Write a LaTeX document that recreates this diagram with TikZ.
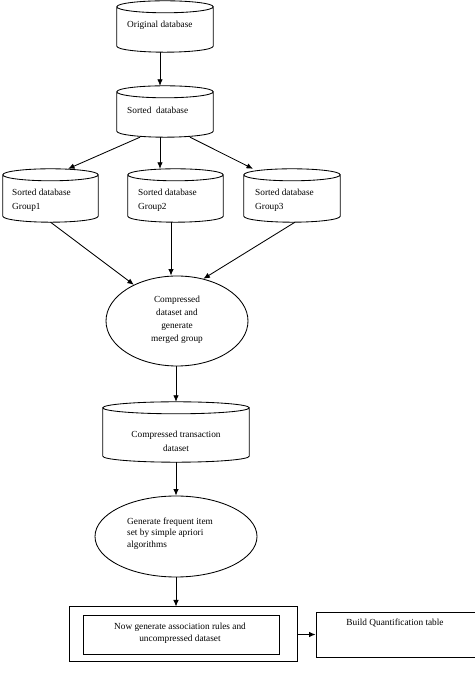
\documentclass[tikz,border=0pt]{standalone}
\usepackage{fontspec}
\setmainfont{Liberation Serif}
\usetikzlibrary{arrows.meta,calc,shapes.geometric}
\newcommand\fs{\fontsize{9.3}{11.5}\selectfont}
\newcommand\mycyl[2]{%
  \draw[line] let \p1=(#1.north west), \p2=(#1.south east), \n1={(\x2-\x1)/2} in
    (\x1,\y1-#2) -- (\x1,\y2+#2)
    arc[start angle=180,end angle=360,x radius=\n1,y radius=#2] -- (\x2,\y1-#2)
    (\x1+\n1,\y1-#2) ellipse[x radius=\n1,y radius=#2];
}
\begin{document}
\begin{tikzpicture}[x=1pt,y=1pt,
  line/.style={draw=black,line width=0.85pt},
  arr/.style={line,-{Latex[length=6.5pt,width=5.5pt]}},
  dbnode/.style={rectangle,inner sep=0pt,minimum width=#1},
  ell/.style={ellipse,line,inner sep=0pt},
  boxnode/.style={rectangle,line,line width=1pt,inner sep=0pt},
  txt/.style={inner sep=0pt,font=\fs},
]
\useasboundingbox (0,0) rectangle (474,676);
\fill[white] (0,0) rectangle (474,676);

% cylinders (databases)
\node[dbnode=96pt,minimum height=51pt] (orig) at (165,649.5) {};
\node[dbnode=96pt,minimum height=51pt] (sorted) at (165,564.5) {};
\node[dbnode=95pt,minimum height=53pt] (g1) at (50.5,480.5) {};
\node[dbnode=95pt,minimum height=53pt] (g2) at (175.5,480.5) {};
\node[dbnode=96pt,minimum height=53pt] (g3) at (292,480.5) {};
\node[dbnode=146pt,minimum height=60pt] (comp) at (176,244) {};
\mycyl{orig}{6pt}
\mycyl{sorted}{6pt}
\mycyl{g1}{6pt}
\mycyl{g2}{6pt}
\mycyl{g3}{6pt}
\mycyl{comp}{6pt}

\node[txt,anchor=west] (torig) at (127,651) {Original database};
\node[txt,anchor=west] (tsorted) at (127,566) {Sorted\ \ database};
\node[txt,anchor=west,align=left,font=\fontsize{9.3}{14}\selectfont] (tg1) at (12,476) {Sorted database\\Group1};
\node[txt,anchor=west,align=left,font=\fontsize{9.3}{14}\selectfont] (tg2) at (138,476) {Sorted database\\Group2};
\node[txt,anchor=west,align=left,font=\fontsize{9.3}{14}\selectfont] (tg3) at (255,476) {Sorted database\\Group3};
\node[txt,align=center,font=\fontsize{9.3}{14}\selectfont] (tcomp) at (176,235) {Compressed transaction\\dataset};

% ellipses
\node[ell,minimum width=142pt,minimum height=90pt] (e1) at (177,355) {};
\node[txt,align=center,font=\fontsize{9.3}{13}\selectfont] (te1) at (177,356.5) {Compressed\\dataset and\\generate\\merged group};
\node[ell,minimum width=162pt,minimum height=81pt] (e2) at (176,139.5) {};
\node[txt,anchor=west,align=left,font=\fontsize{9.3}{11.5}\selectfont] (te2) at (127,142.5) {Generate frequent item\\set by simple apriori\\algorithms};

% boxes
\node[boxnode,minimum width=228pt,minimum height=55pt] (outer) at (183,41.5) {};
\node[boxnode,minimum width=196pt,minimum height=39pt] (inner) at (181,40.5) {};
\node[txt,align=center,font=\fontsize{9.3}{12}\selectfont] (tinner) at (180,43) {Now generate association rules and\\uncompressed dataset};
\node[boxnode,line width=0.9pt,minimum width=166pt,minimum height=45pt] (build) at (399,41.5) {};
\node[txt] (tbuild) at (395,53) {Build Quantification table};

% connectors
\draw[arr] ([xshift=-5pt]orig.south) -- ([xshift=-5pt]sorted.north);
\draw[arr] ([xshift=-25pt]sorted.south) -- ([xshift=17.5pt]g1.north);
\draw[arr] ([xshift=-5pt]sorted.south) -- ([xshift=-15.5pt]g2.north);
\draw[arr] ([xshift=25pt]sorted.south) -- ([xshift=-39pt]g3.north);
\draw[arr] (g1.south) -- (e1.140);
\draw[arr] ([xshift=-4.5pt]g2.south) -- ([xshift=-6pt]e1.north);
\draw[arr] ([xshift=3pt]g3.south) -- (e1.58);
\draw[arr] ([xshift=-1pt]e1.south) -- (comp.north);
\draw[arr] (comp.south) -- (e2.north);
\draw[arr] (e2.south) -- (e2.south |- outer.north);
\draw[arr] (outer.east) -- (build.west);
\end{tikzpicture}
\end{document}
